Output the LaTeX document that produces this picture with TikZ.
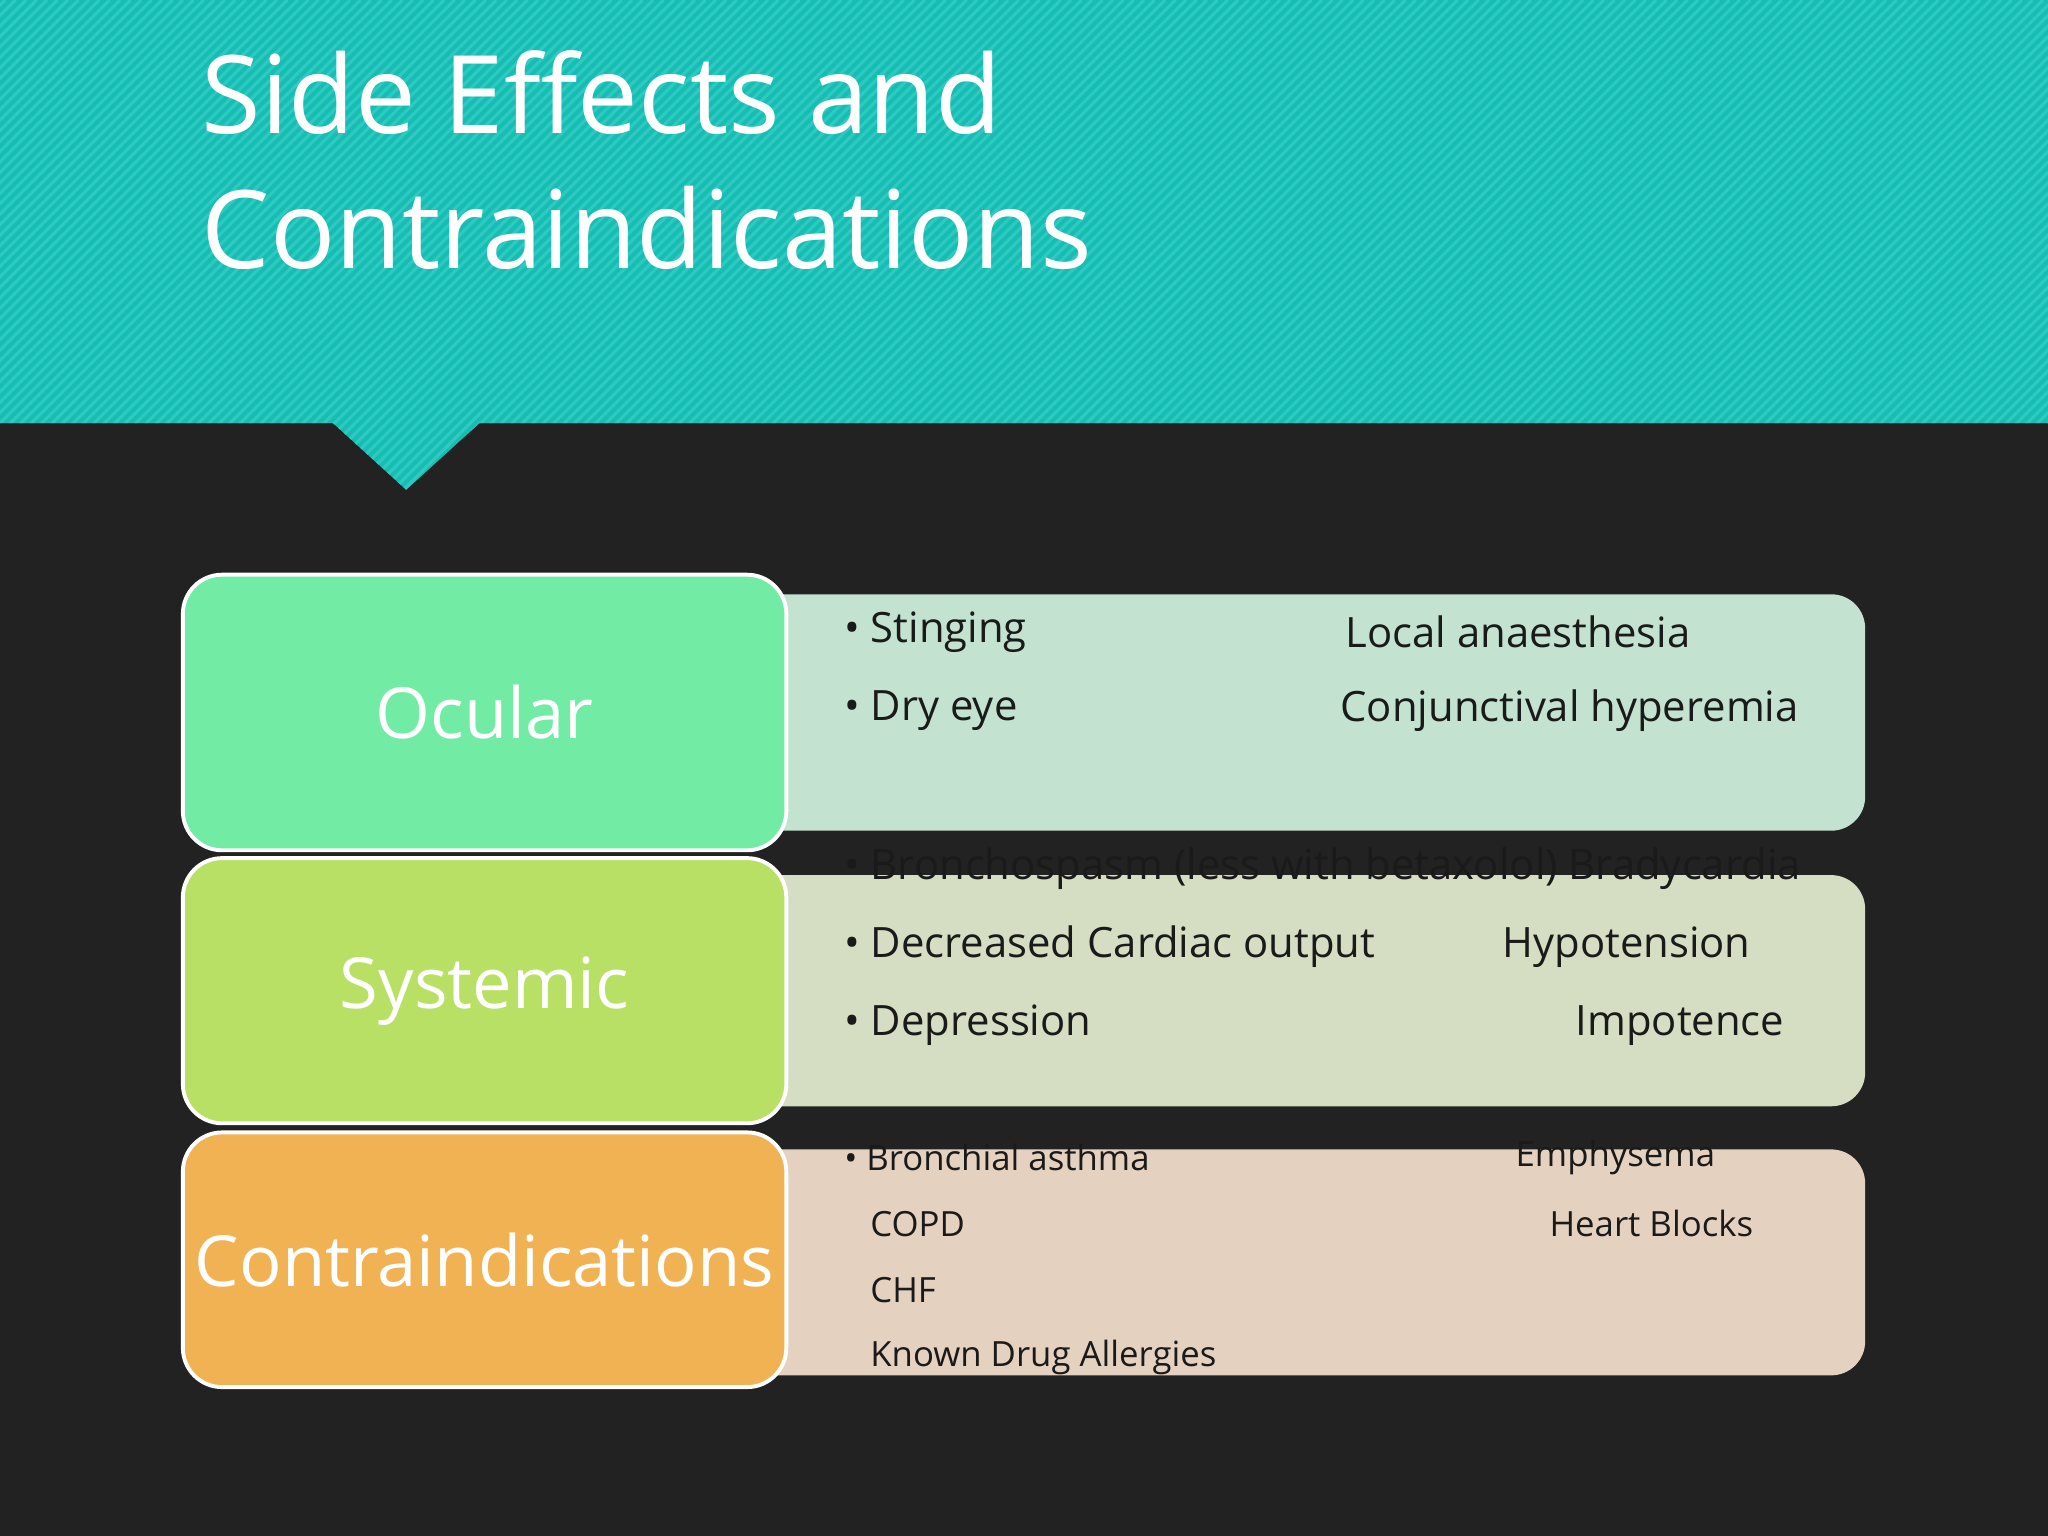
\documentclass[tikz,border=0pt]{standalone}
\usepackage{fontspec}
\setmainfont{Open Sans}
\definecolor{bg}{HTML}{222222}
\definecolor{teal}{HTML}{17BDB3}
\definecolor{teall}{HTML}{2CCAC0}
\definecolor{ocL}{HTML}{72EBA5}
\definecolor{syL}{HTML}{B8E065}
\definecolor{coL}{HTML}{F0B252}
\definecolor{ocR}{HTML}{C3E3D0}
\definecolor{syR}{HTML}{D5DEC3}
\definecolor{coR}{HTML}{E5D1C0}
\definecolor{txt}{HTML}{1A1A1A}
\tikzset{
 lbox/.style={draw=white,line width=1.5pt,rounded corners=15pt,inner sep=0pt},
 rbox/.style={rounded corners=13pt},
 ltext/.style={text=white,font=\fontsize{27}{32}\selectfont},
 btext/.style={anchor=west,text=txt,font=\fontsize{16}{19}\selectfont,inner sep=0pt},
 ctext/.style={anchor=west,text=txt,font=\fontsize{13.3}{16}\selectfont,inner sep=0pt}
}
\begin{document}
\begin{tikzpicture}[x=0.5pt,y=-0.5pt]
\fill[bg] (0,0) rectangle (1568,1176);
\useasboundingbox (0,0) rectangle (1568,1176);
% header
\begin{scope}
\clip (0,0) -- (1568,0) -- (1568,324) -- (367,324) -- (311,375) -- (255,324) -- (0,324) -- cycle;
\fill[teal] (0,0) rectangle (1568,380);
\foreach \i in {-400,-392,...,1600}{
 \draw[teall,line width=1.2pt] (\i,380) -- ++(380,-380);
}
\end{scope}
\node[anchor=north west,align=left,text=white,font=\fontsize{41.5}{52}\selectfont,inner sep=0pt] (title) at (154,38) {Side Effects and\\Contraindications};
% right boxes
\fill[ocR,rbox] (560,455) rectangle (1428,636);
\fill[syR,rbox] (560,670) rectangle (1428,847);
\fill[coR,rbox] (560,880) rectangle (1428,1053);
% left boxes
\node[lbox,fill=ocL,minimum width=231pt,minimum height=105.5pt,ltext] (oc) at (371,545.5) {Ocular};
\node[lbox,fill=syL,minimum width=231pt,minimum height=101.5pt,ltext] (sy) at (371,758.5) {Systemic};
\node[lbox,fill=coL,minimum width=231pt,minimum height=97.5pt,ltext] (co) at (371,964.5) {Contraindications};
% texts
\node[btext] (t1) at (646,484) {• Stinging};
\node[btext] (t2) at (1030,484) {Local anaesthesia};
\node[btext] (t3) at (646,544) {• Dry eye};
\node[btext] (t4) at (1026,544) {Conjunctival hyperemia};
\node[btext] (t5) at (646,665) {• Bronchospasm (less with betaxolol) Bradycardia};
\node[btext] (t6) at (646,725) {• Decreased Cardiac output};
\node[btext] (t7) at (1150,725) {Hypotension};
\node[btext] (t8) at (646,785) {• Depression};
\node[btext] (t9) at (1206,785) {Impotence};
\node[ctext] (c1) at (646,886) {• Bronchial asthma};
\node[ctext] (c2) at (1160,886) {Emphysema};
\node[ctext] (c3) at (666,937) {COPD};
\node[ctext] (c4) at (1186,937) {Heart Blocks};
\node[ctext] (c5) at (666,988) {CHF};
\node[ctext] (c6) at (666,1039) {Known Drug Allergies};
\end{tikzpicture}
\end{document}
